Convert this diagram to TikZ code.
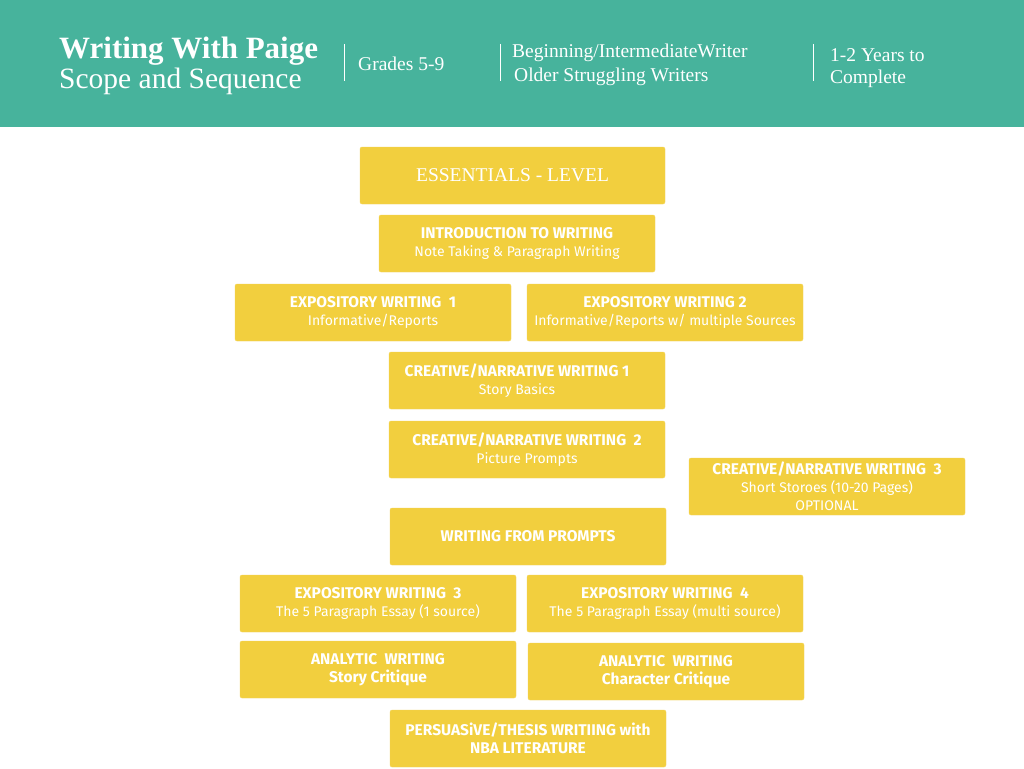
\documentclass[tikz,border=0pt]{standalone}
\usepackage{fontspec}
\setmainfont{Liberation Serif}
\newfontfamily\boxfont{Fira Sans}
\definecolor{teal}{HTML}{47B39C}
\definecolor{gold}{HTML}{F2CF3E}
\newcommand{\ttl}[1]{{\fontsize{15.5}{18}\selectfont\bfseries #1}}
\tikzset{
  x=1pt, y=-1pt,
  card/.style={fill=gold, draw=gold!85!white, rounded corners=2pt, minimum width=276pt, minimum height=57pt, inner sep=0pt, text=white, align=center, font=\boxfont\fontsize{14}{18}\selectfont},
  hdr/.style={text=white, anchor=west, inner sep=0pt, align=left},
  sep/.style={draw=white, line width=0.8pt}
}
\begin{document}
\begin{tikzpicture}
\useasboundingbox (0,0) rectangle (1024,768);
\fill[white] (0,0) rectangle (1024,768);
\fill[teal] (0,0) rectangle (1024,127);
% header
\node[hdr, font=\bfseries\fontsize{31}{33}\selectfont] (title) at (59,51) {Writing With Paige};
\node[hdr, font=\fontsize{29.5}{31}\selectfont] (sub) at (59,81) {Scope and Sequence};
\coordinate (s1a) at (344,44); \coordinate (s1b) at (344,81);
\coordinate (s2a) at (500,44); \coordinate (s2b) at (500,81);
\coordinate (s3a) at (813,44); \coordinate (s3b) at (813,81);
\draw[sep] (s1a) -- (s1b);
\draw[sep] (s2a) -- (s2b);
\draw[sep] (s3a) -- (s3b);
\node[hdr, font=\fontsize{19.5}{22}\selectfont] (grades) at (358,64) {Grades 5-9};
\node[hdr, font=\fontsize{19.5}{22}\selectfont] (beg) at (512,53) {Beginning/IntermediateWriter};
\node[hdr, font=\fontsize{19.5}{22}\selectfont] (old) at (514,77) {Older Struggling Writers};
\node[hdr, font=\fontsize{19.5}{22}\selectfont] (yrs) at (830,55) {1-2 Years to};
\node[hdr, font=\fontsize{19.5}{22}\selectfont] (comp) at (830,79) {Complete};
% boxes
\node[card, minimum width=305pt, minimum height=57pt, font=\fontsize{19.5}{22}\selectfont] (ess) at (512.5,175.5) {ESSENTIALS - LEVEL};
\node[card] (intro) at (517,243.5) {\ttl{INTRODUCTION TO WRITING}\\Note Taking \& Paragraph Writing};
\node[card] (exp1) at (373,312.5) {\ttl{EXPOSITORY WRITING\ \ 1}\\Informative/Reports};
\node[card] (exp2) at (665,312.5) {\ttl{EXPOSITORY WRITING 2}\\Informative/Reports w/ multiple Sources};
\node[card] (cn1) at (527,380.5) {\ttl{CREATIVE/NARRATIVE WRITING 1}\rule{20pt}{0pt}\\Story Basics\rule{20pt}{0pt}};
\node[card] (cn2) at (527,449.5) {\ttl{CREATIVE/NARRATIVE WRITING\ \ 2}\\Picture Prompts};
\node[card] (cn3) at (827,486.5) {\ttl{CREATIVE/NARRATIVE WRITING\ \ 3}\\Short Storoes (10-20 Pages)\\OPTIONAL};
\node[card] (wfp) at (528,536.5) {\ttl{WRITING FROM PROMPTS}};
\node[card] (exp3) at (378,603.5) {\ttl{EXPOSITORY WRITING\ \ 3}\\The 5 Paragraph Essay (1 source)};
\node[card] (exp4) at (665,603.5) {\ttl{EXPOSITORY WRITING\ \ 4}\\The 5 Paragraph Essay (multi source)};
\node[card] (an1) at (378,669.5) {\ttl{ANALYTIC\ \ WRITING}\\\ttl{Story Critique}};
\node[card] (an2) at (666,671.5) {\ttl{ANALYTIC\ \ WRITING}\\\ttl{Character Critique}};
\node[card] (pers) at (528,738.5) {\ttl{PERSUASiVE/THESIS WRITIING with}\\\ttl{NBA LITERATURE}};
\end{tikzpicture}
\end{document}
